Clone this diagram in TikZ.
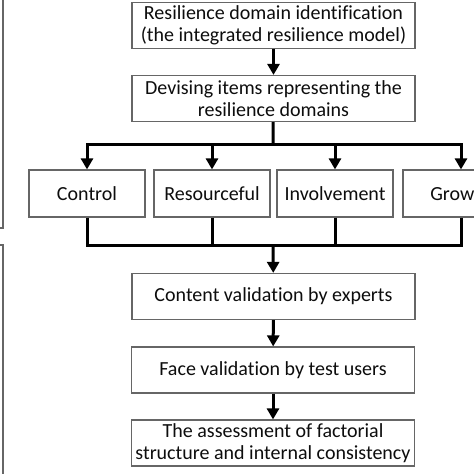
\documentclass[tikz,border=0pt]{standalone}
\usepackage{fontspec}
\setmainfont[Ligatures=NoCommon]{Carlito}
\usetikzlibrary{arrows.meta}

\begin{document}
\begin{tikzpicture}[
    x=1pt, y=-1pt,
    step box/.style={
        draw=black!60,
        line width=1.2pt,
        fill=white,
        inner sep=0pt,
        minimum width=283pt,
        minimum height=46pt,
        align=center,
        font=\fontsize{20}{22}\selectfont,
        text=black!95
    },
    domain box/.style={
        step box,
        minimum width=116pt,
        minimum height=47pt
    },
    step flow/.style={
        line width=3pt,
        draw=black,
        -{Triangle[width=12pt,length=11pt]}
    },
    step link/.style={
        line width=3pt,
        draw=black
    }
]
    \clip (0,0) rectangle (474,474);

    % Randkaesten, links angeschnitten
    \draw[draw=black!60, line width=1.2pt] (-60,-10) rectangle (3,228);
    \draw[draw=black!60, line width=1.2pt] (-60,245) rectangle (3,500);

    % Hauptschritte
    \node[step box] (ident) at (273.5,25.5)
        {Resilience domain identification\\(the integrated resilience model)};
    \node[step box] (items) at (273.5,98.5)
        {Devising items representing the\\resilience domains};
    \node[step box] (content) at (273.5,296.5)
        {Content validation by experts};
    \node[step box] (face) at (273,370)
        {Face validation by test users};
    \node[step box] (assess) at (273,443)
        {The assessment of factorial\\structure and internal consistency};

    % Resilienzbereiche
    \foreach \domain/\label/\xpos in {control/Control/87,resource/Resourceful/212,
                                      involve/Involvement/335,growth/Growth/461} {
        \node[domain box] (\domain) at (\xpos,193.5) {\label};
    }

    \coordinate (split) at (273,144);
    \coordinate (join) at (273,245);

    % Verbindungen
    \draw[step flow] (ident) -- (items);
    \draw[step link] (items) -- (split);
    \foreach \domain in {control,resource,involve,growth} {
        \draw[step flow] (split) -| (\domain);
        \draw[step link] (\domain) |- (join);
    }
    \draw[step flow] (join) -- (content);
    \draw[step flow] (content) -- (face);
    \draw[step flow] (face) -- (assess);
\end{tikzpicture}
\end{document}
